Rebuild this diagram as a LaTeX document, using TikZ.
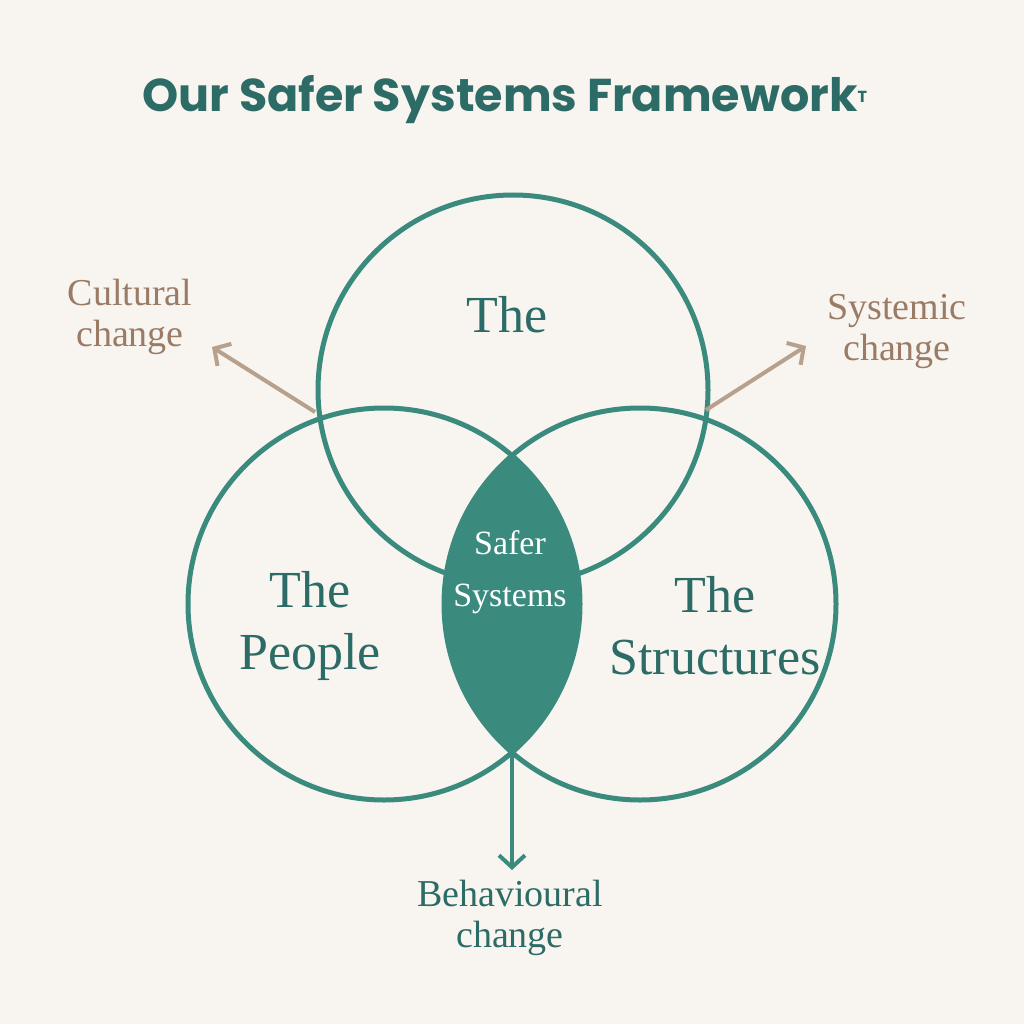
\documentclass[tikz,border=0pt]{standalone}
\usepackage{fontspec}
\setmainfont{Liberation Serif}
\newfontfamily\titlefont{Poppins}
\definecolor{bg}{HTML}{F8F5F0}
\definecolor{teal}{HTML}{3A8A7E}
\definecolor{dteal}{HTML}{2C6B66}
\definecolor{tan}{HTML}{9A7B65}
\definecolor{arrtan}{HTML}{B7A08C}
\usetikzlibrary{arrows.meta}
\tikzset{
  ring/.style={draw=teal,line width=5pt},
  big/.style={text=dteal,font=\fontsize{52}{62}\selectfont,align=center},
  side/.style={text=tan,font=\fontsize{38}{41}\selectfont,align=center},
  arr/.style={line width=4pt,-{Straight Barb[length=12pt,width=26pt,line width=4pt]}},
}
\begin{document}
\begin{tikzpicture}[x=1pt,y=-1pt]
\fill[bg] (0,0) rectangle (1024,1024);
\useasboundingbox (0,0) rectangle (1024,1024);
\begin{scope}
\clip (384,604) circle (196);
\fill[teal] (640,604) circle (196);
\end{scope}
\node[ring,circle,minimum size=390pt,inner sep=0pt] (top) at (513,390) {};
\node[ring,circle,minimum size=392pt,inner sep=0pt] (left) at (384,604) {};
\node[ring,circle,minimum size=392pt,inner sep=0pt] (right) at (640,604) {};
\node[text=dteal,font=\titlefont\bfseries\fontsize{46}{50}\selectfont] (title) at (505,100) {Our Safer Systems Framework\textsuperscript{\fontsize{16}{16}\selectfont T}};
\node[big] (t1) at (507,315) {The};
\node[big] (t2) at (310,626) {The\\People};
\node[big] (t3) at (715,626) {The\\Structures};
\node[text=white,font=\fontsize{34}{52}\selectfont,align=center] (ss) at (510,572) {Safer\\Systems};
\node[side] (cc) at (130,317) {Cultural\\change};
\node[side] (sc) at (897,332) {Systemic\\change};
\node[side,text=dteal] (bc) at (510,918) {Behavioural\\change};
\coordinate (a1) at (315,412); \coordinate (a1e) at (212,347);
\coordinate (a2) at (706,410); \coordinate (a2e) at (806,346);
\coordinate (a3) at (512,750); \coordinate (a3e) at (512,870);
\draw[arr,draw=arrtan] (a1) -- (a1e);
\draw[arr,draw=arrtan] (a2) -- (a2e);
\draw[arr,draw=teal] (a3) -- (a3e);
\end{tikzpicture}
\end{document}
